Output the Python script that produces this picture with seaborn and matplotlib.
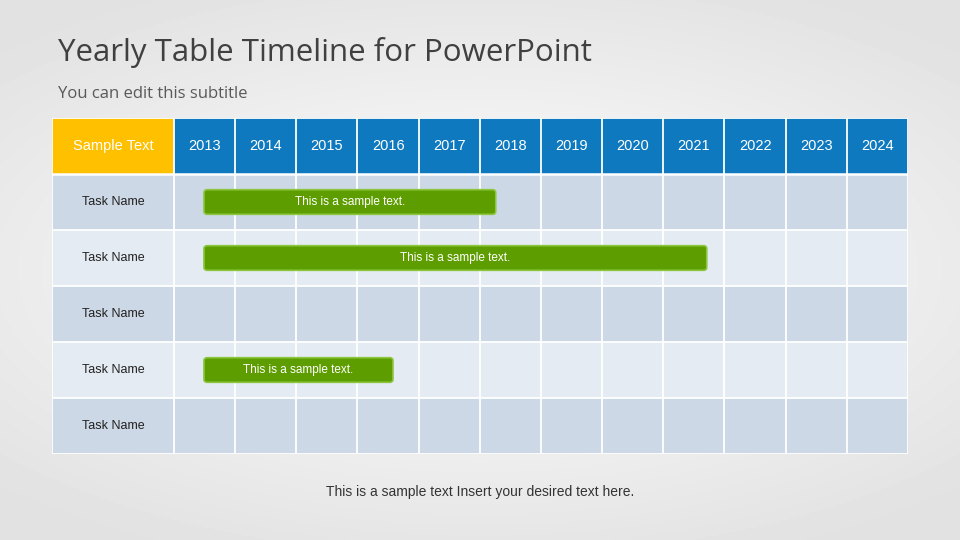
import matplotlib.pyplot as plt
import seaborn as sns
import numpy as np
from matplotlib.patches import Rectangle, FancyBboxPatch

sns.set_theme(style="white")
plt.rcParams['font.family'] = ['Liberation Sans', 'DejaVu Sans']

years = [str(y) for y in range(2013, 2025)]
tasks = ["Task Name"] * 5
bar_start = [0.49, 0.49, None, 0.49, None]   # in year-column units from 2013 left edge
bar_end = [5.26, 8.71, None, 3.58, None]
bar_text = "This is a sample text."

fig = plt.figure(figsize=(9.6, 5.4), dpi=100)

# soft radial background
bg = fig.add_axes([0, 0, 1, 1])
yy, xx = np.mgrid[-1:1:270j, -1:1:480j]
r = np.sqrt((xx * 0.9) ** 2 + (yy * 1.1) ** 2)
bg.imshow(1 - 0.09 * np.clip(r, 0, 1.3), cmap="gray", vmin=0, vmax=1, aspect="auto")
bg.axis("off")

fig.text(58 / 960, 1 - 52 / 540, "Yearly Table Timeline for PowerPoint", fontsize=22.5,
         color="#404040", va="center", family=["Open Sans", "DejaVu Sans"])
fig.text(58 / 960, 1 - 94 / 540, "You can edit this subtitle", fontsize=12,
         color="#595959", va="center", family=["Open Sans", "DejaVu Sans"])
fig.text(480 / 960, 1 - 492 / 540, "This is a sample text Insert your desired text here.",
         fontsize=10, color="#333333", ha="center", va="center")

first_w = 122 / 61.17
ax = fig.add_axes([52 / 960, 1 - 454 / 540, 856 / 960, 336 / 540])
ax.set_xlim(-first_w, 12)
ax.set_ylim(6, 0)
ax.axis("off")

# header
ax.add_patch(Rectangle((-first_w, 0), first_w, 1, color="#FFC000", lw=0, zorder=1))
ax.text(-first_w / 2, 0.5, "Sample Text", color="white", ha="center", va="center", fontsize=10.5, zorder=5)
for i, y in enumerate(years):
    ax.add_patch(Rectangle((i, 0), 1, 1, color="#0E79BE", lw=0, zorder=1))
    ax.text(i + 0.5, 0.5, y, color="white", ha="center", va="center", fontsize=10.5, zorder=5)

# body rows
for r_i, t in enumerate(tasks):
    c = "#CDD8E6" if r_i % 2 == 0 else "#E5EBF2"
    ax.add_patch(Rectangle((-first_w, r_i + 1), first_w + 12, 1, color=c, lw=0, zorder=1))
    ax.text(-first_w / 2, r_i + 1.5, t, color="#222222", ha="center", va="center", fontsize=9, zorder=5)

# grid lines
for x in range(0, 13):
    ax.plot([x, x], [0, 6], color="white", lw=1.3, zorder=2)
ax.plot([-first_w, -first_w], [0, 6], color="white", lw=1.3, zorder=2)
for y in range(0, 7):
    ax.plot([-first_w, 12], [y, y], color="white", lw=1.8 if y == 1 else 1.3, zorder=2)

# bars
for r_i, (s, e) in enumerate(zip(bar_start, bar_end)):
    if s is None:
        continue
    yc = r_i + 1.5
    h = 0.44
    ax.add_patch(FancyBboxPatch((s, yc - h / 2), e - s, h,
                                boxstyle="round,pad=0,rounding_size=0.05",
                                fc="#5E9D00", ec="#8CC63F", lw=1.2, zorder=3))
    ax.text((s + e) / 2, yc, bar_text, color="white", ha="center", va="center", fontsize=8.5, zorder=6)

fig.savefig("out.png", dpi=100)
